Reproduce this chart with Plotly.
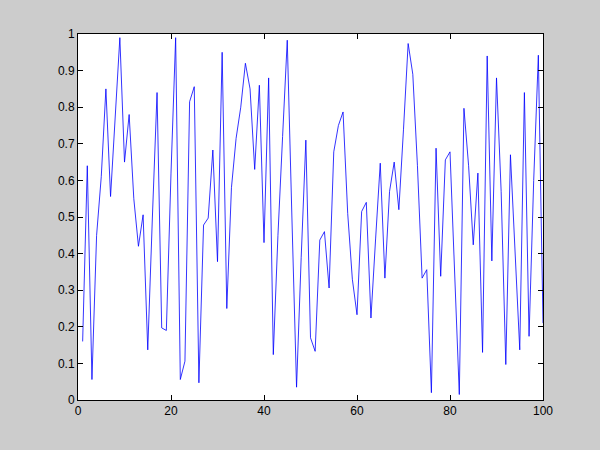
import plotly.graph_objects as go

x_values = list(range(1, 101))
y_values = [
    0.16, 0.64, 0.056, 0.45, 0.61, 0.85, 0.556, 0.78, 0.99, 0.65,
    0.78, 0.55, 0.42, 0.506, 0.137, 0.5, 0.84, 0.197, 0.19, 0.62,
    0.99, 0.056, 0.106, 0.815, 0.856, 0.047, 0.478, 0.497, 0.683, 0.378,
    0.95, 0.25, 0.58, 0.715, 0.8, 0.92, 0.85, 0.63, 0.86, 0.43,
    0.88, 0.124, 0.45, 0.72, 0.983, 0.5, 0.035, 0.39, 0.71, 0.17,
    0.133, 0.437, 0.46, 0.306, 0.678, 0.75, 0.787, 0.51, 0.33, 0.233,
    0.515, 0.54, 0.224, 0.44, 0.647, 0.333, 0.57, 0.65, 0.52, 0.74,
    0.974, 0.89, 0.64, 0.333, 0.356, 0.02, 0.688, 0.338, 0.656, 0.678,
    0.35, 0.015, 0.797, 0.64, 0.424, 0.62, 0.13, 0.94, 0.38, 0.88,
    0.57, 0.097, 0.67, 0.39, 0.137, 0.84, 0.174, 0.6, 0.942, 0.21,
]
x_ticks = [0, 20, 40, 60, 80, 100]
y_ticks = [0, 0.1, 0.2, 0.3, 0.4, 0.5, 0.6, 0.7, 0.8, 0.9, 1]
y_tick_labels = ["0", "0.1", "0.2", "0.3", "0.4", "0.5", "0.6", "0.7", "0.8", "0.9", "1"]

fig = go.Figure()
fig.add_trace(go.Scatter(
    x=x_values, y=y_values, mode="lines",
    line=dict(color="#0000ff", width=0.8),
    showlegend=False, hoverinfo="skip",
))

axis_common = dict(
    showgrid=False, zeroline=False, showline=True, linecolor="black",
    linewidth=1, mirror="ticks", ticks="inside", ticklen=5,
    tickcolor="black", tickwidth=1,
    tickfont=dict(family="Liberation Sans, Arial, sans-serif", size=12, color="black"),
)

fig.update_layout(
    width=600, height=450,
    margin=dict(l=78, r=57, t=34, b=50),
    paper_bgcolor="#cccccc", plot_bgcolor="white",
    xaxis=dict(range=[0, 100], tickvals=x_ticks, **axis_common),
    yaxis=dict(range=[0, 1], tickvals=y_ticks, ticktext=y_tick_labels, **axis_common),
)

fig.write_html(
    "out.html",
    config={"displayModeBar": False},
    post_script="document.body.style.margin='0';document.body.style.overflow='hidden';",
)
